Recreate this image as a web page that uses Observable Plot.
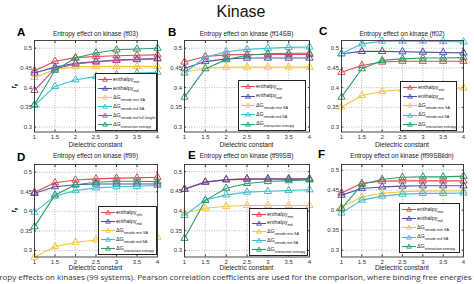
<!DOCTYPE html>
<html>
<head>
<meta charset="utf-8">
<script src="https://cdn.jsdelivr.net/npm/d3@7"></script>
<script src="https://cdn.jsdelivr.net/npm/@observablehq/plot@0.6"></script>
<style>
  body { margin: 0; background: #fff; }
  #fig { position: relative; width: 474px; height: 284px; overflow: hidden; background: #fff;
         font-family: "Liberation Sans", Arial, sans-serif; color: #222; }
  .abs { position: absolute; white-space: nowrap; line-height: 1; }
  .c { transform: translate(-50%, -50%); }
  .legend { position: absolute; background: #fff; border: 1px solid #222; box-sizing: border-box;
            display: flex; flex-direction: column; justify-content: space-evenly; overflow: hidden; }
  .legend .row { display: flex; align-items: center; font-size: 5.4px; line-height: 1; color: #222;
                 white-space: nowrap; height: 7px; }
  .legend svg { flex: none; margin: 0 1px 0 2px; }
  sub { font-size: 3.7px; vertical-align: -1.5px; line-height: 0; }
</style>
</head>
<body>
<div id="fig"></div>
<script>
// Dielectric constants on the x axis
const dielectric = [1, 1.5, 2, 2.5, 3, 3.5, 4];
const yTicks = [0.3, 0.35, 0.4, 0.45, 0.5];

// Series keys, legend names (base + subscript) and colours
const seriesKeys = ["enthalpyMin", "enthalpyMd", "minSA", "mdSA", "fullLength", "interaction"];
const seriesBase = ["enthalpy", "enthalpy", "ΔG", "ΔG", "ΔG", "ΔG"];
const seriesSub = ["min", "md", "nmode min SA", "nmode md SA", "nmode md full-length", "interaction entropy"];
const seriesColors = ["#e4474e", "#4e50a8", "#f6c640", "#3dbfcf", "#b04f98", "#2d9c6c"];

// Pearson r_p per force field
const ff03_enthalpyMin = [0.443, 0.467, 0.476, 0.479, 0.481, 0.482, 0.483];
const ff03_enthalpyMd  = [0.437, 0.452, 0.462, 0.466, 0.470, 0.472, 0.474];
const ff03_minSA       = [0.426, 0.446, 0.453, 0.454, 0.454, 0.454, 0.454];
const ff03_mdSA        = [0.355, 0.403, 0.420, 0.428, 0.433, 0.437, 0.439];
const ff03_fullLength  = [0.393, 0.448, 0.460, 0.465, 0.469, 0.471, 0.473];
const ff03_interaction = [0.357, 0.444, 0.475, 0.488, 0.496, 0.498, 0.500];

const ff14SB_enthalpyMin = [0.465, 0.479, 0.483, 0.484, 0.484, 0.484, 0.484];
const ff14SB_enthalpyMd  = [0.449, 0.466, 0.473, 0.475, 0.475, 0.475, 0.475];
const ff14SB_minSA       = [0.439, 0.449, 0.452, 0.452, 0.452, 0.452, 0.452];
const ff14SB_mdSA        = [0.437, 0.477, 0.491, 0.497, 0.500, 0.502, 0.503];
const ff14SB_interaction = [0.376, 0.448, 0.471, 0.482, 0.486, 0.487, 0.487];

const ff02_enthalpyMin = [0.439, 0.456, 0.465, 0.467, 0.467, 0.467, 0.467];
const ff02_enthalpyMd  = [0.486, 0.492, 0.492, 0.491, 0.490, 0.489, 0.488];
const ff02_minSA       = [0.351, 0.380, 0.390, 0.395, 0.396, 0.397, 0.399];
const ff02_mdSA        = [0.486, 0.511, 0.518, 0.518, 0.518, 0.517, 0.516];
const ff02_interaction = [0.376, 0.448, 0.469, 0.473, 0.475, 0.475, 0.476];

const ff99_enthalpyMin = [0.449, 0.473, 0.480, 0.483, 0.485, 0.4855, 0.487];
const ff99_enthalpyMd  = [0.446, 0.463, 0.468, 0.470, 0.470, 0.470, 0.470];
const ff99_minSA       = [0.283, 0.310, 0.321, 0.327, 0.330, 0.332, 0.334];
const ff99_mdSA        = [0.398, 0.439, 0.453, 0.460, 0.463, 0.464, 0.466];
const ff99_interaction = [0.361, 0.442, 0.468, 0.4745, 0.477, 0.477, 0.476];

const ff99SB_enthalpyMin = [0.456, 0.474, 0.480, 0.482, 0.482, 0.482, 0.482];
const ff99SB_enthalpyMd  = [0.455, 0.473, 0.479, 0.481, 0.481, 0.481, 0.481];
const ff99SB_minSA       = [0.395, 0.407, 0.412, 0.414, 0.414, 0.414, 0.414];
const ff99SB_mdSA        = [0.389, 0.428, 0.441, 0.448, 0.450, 0.452, 0.454];
const ff99SB_interaction = [0.331, 0.427, 0.458, 0.470, 0.475, 0.477, 0.479];

const ff99SBildn_enthalpyMin = [0.443, 0.467, 0.4725, 0.473, 0.473, 0.473, 0.473];
const ff99SBildn_enthalpyMd  = [0.4375, 0.454, 0.458, 0.460, 0.461, 0.461, 0.461];
const ff99SBildn_minSA       = [0.408, 0.433, 0.442, 0.446, 0.4475, 0.448, 0.448];
const ff99SBildn_mdSA        = [0.393, 0.425, 0.435, 0.440, 0.442, 0.442, 0.443];
const ff99SBildn_interaction = [0.404, 0.464, 0.477, 0.482, 0.483, 0.483, 0.485];

const panels = [
  { letter: "A", ff: "ff03", yDomain: [0.2875, 0.5195],
    series: { enthalpyMin: ff03_enthalpyMin, enthalpyMd: ff03_enthalpyMd, minSA: ff03_minSA,
              mdSA: ff03_mdSA, fullLength: ff03_fullLength, interaction: ff03_interaction } },
  { letter: "B", ff: "ff14SB", yDomain: [0.2875, 0.5195],
    series: { enthalpyMin: ff14SB_enthalpyMin, enthalpyMd: ff14SB_enthalpyMd, minSA: ff14SB_minSA,
              mdSA: ff14SB_mdSA, interaction: ff14SB_interaction } },
  { letter: "C", ff: "ff02", yDomain: [0.2875, 0.5195],
    series: { enthalpyMin: ff02_enthalpyMin, enthalpyMd: ff02_enthalpyMd, minSA: ff02_minSA,
              mdSA: ff02_mdSA, interaction: ff02_interaction } },
  { letter: "D", ff: "ff99", yDomain: [0.2834, 0.5197],
    series: { enthalpyMin: ff99_enthalpyMin, enthalpyMd: ff99_enthalpyMd, minSA: ff99_minSA,
              mdSA: ff99_mdSA, interaction: ff99_interaction } },
  { letter: "E", ff: "ff99SB", yDomain: [0.2835, 0.5180],
    series: { enthalpyMin: ff99SB_enthalpyMin, enthalpyMd: ff99SB_enthalpyMd, minSA: ff99SB_minSA,
              mdSA: ff99SB_mdSA, interaction: ff99SB_interaction } },
  { letter: "F", ff: "ff99SBildn", yDomain: [0.2830, 0.5140],
    series: { enthalpyMin: ff99SBildn_enthalpyMin, enthalpyMd: ff99SBildn_enthalpyMd, minSA: ff99SBildn_minSA,
              mdSA: ff99SBildn_mdSA, interaction: ff99SBildn_interaction } }
];

// Layout of the 2 x 3 grid (plot boxes in page pixels)
const colBox = [[34, 157], [184, 309], [341, 463]];
const rowBox = [[40, 131.5], [164, 256.5]];
const letterPos = [[17, 27], [168, 27], [319, 26], [17, 152], [188, 150], [318, 149]];
const legendPos = [[95, 73, 157, 131], [238, 80, 306, 131], [400, 81, 457, 131],
                   [98, 206, 157, 255], [249, 208, 308, 256], [399, 203, 460, 253]];
const titleY = [33.5, 156];
const xLabelY = [144.5, 268.3];

const fig = document.getElementById("fig");

function addText(html, x, y, style) {
  const d = document.createElement("div");
  d.className = "abs c";
  d.innerHTML = html;
  d.style.left = x + "px";
  d.style.top = y + "px";
  Object.assign(d.style, style || {});
  fig.appendChild(d);
  return d;
}

addText("Kinase", 241, 12, { fontSize: "16px", color: "#111" });

panels.forEach((p, i) => {
  const r = Math.floor(i / 3), c = i % 3;
  const [x0, x1] = colBox[c], [y0, y1] = rowBox[r];
  const mL = 26, mR = 8, mT = 6, mB = 14;
  const marks = [
    Plot.gridX(dielectric, { stroke: "#9a9a9a", strokeOpacity: 0.7, strokeDasharray: "1,1.5" }),
    Plot.gridY(yTicks, { stroke: "#9a9a9a", strokeOpacity: 0.7, strokeDasharray: "1,1.5" }),
    Plot.axisX(dielectric, { tickSize: 0, tickPadding: 3, tickFormat: d => String(d), label: null, color: "#333" }),
    Plot.axisY(yTicks, { tickSize: 0, tickPadding: 2.5, tickFormat: d => String(d), label: null, color: "#333" }),
    Plot.axisX(dielectric, { tickSize: 2, dy: -2, tickFormat: () => "", label: null, stroke: "#333" }),
    Plot.axisY(yTicks, { tickSize: 2, dx: 2, tickFormat: () => "", label: null, stroke: "#333" }),
    Plot.axisX(dielectric, { anchor: "top", tickSize: 2, dy: 2, tickFormat: () => "", label: null, stroke: "#333" }),
    Plot.axisY(yTicks, { anchor: "right", tickSize: 2, dx: -2, tickFormat: () => "", label: null, stroke: "#333" })
  ];
  seriesKeys.forEach((k, si) => {
    const vals = p.series[k];
    if (!vals) return;
    const data = dielectric.map((x, j) => ({ x, y: vals[j] }));
    marks.push(Plot.line(data, { x: "x", y: "y", stroke: seriesColors[si], strokeWidth: 1.1 }));
    marks.push(Plot.dot(data, { x: "x", y: "y", stroke: seriesColors[si], symbol: "triangle", r: 2.7, strokeWidth: 1, fill: "none" }));
  });
  marks.push(Plot.frame({ stroke: "#333", strokeWidth: 0.9 }));

  const svg = Plot.plot({
    width: (x1 - x0) + mL + mR,
    height: (y1 - y0) + mT + mB,
    marginLeft: mL, marginRight: mR, marginTop: mT, marginBottom: mB,
    style: { fontFamily: "'Liberation Sans', Arial, sans-serif", fontSize: "6px", color: "#333", background: "transparent", overflow: "visible" },
    x: { domain: [1, 4] },
    y: { domain: p.yDomain },
    marks
  });
  svg.style.position = "absolute";
  svg.style.left = (x0 - mL) + "px";
  svg.style.top = (y0 - mT) + "px";
  fig.appendChild(svg);

  const cx = (x0 + x1) / 2, cy = (y0 + y1) / 2;
  addText(`Entropy effect on kinase (${p.ff})`, cx, titleY[r], { fontSize: "6.4px" });
  addText("Dielectric constant", cx, xLabelY[r], { fontSize: "6.6px" });
  addText("r<sub>p</sub>", 14, cy, { fontSize: "6.5px", transform: "translate(-50%,-50%) rotate(-90deg)" });
  const lp = letterPos[i];
  addText(p.letter, lp[0], lp[1], { fontSize: "11.5px", fontWeight: "bold", color: "#000", transform: "none" });

  // legend
  const lg = legendPos[i];
  const box = document.createElement("div");
  box.className = "legend";
  Object.assign(box.style, { left: lg[0] + "px", top: lg[1] + "px", width: (lg[2] - lg[0]) + "px", height: (lg[3] - lg[1]) + "px" });
  seriesKeys.forEach((k, si) => {
    if (!p.series[k]) return;
    const row = document.createElement("div");
    row.className = "row";
    const col = seriesColors[si];
    row.innerHTML = `<svg width="14" height="7" viewBox="0 0 14 7"><line x1="0" x2="14" y1="3.5" y2="3.5" stroke="${col}" stroke-width="1.1"/>` +
      `<path d="M7,1 L9.3,5.2 L4.7,5.2 Z" fill="none" stroke="${col}" stroke-width="0.9"/></svg>` +
      `<span>${seriesBase[si]}<sub>${seriesSub[si]}</sub></span>`;
    box.appendChild(row);
  });
  fig.appendChild(box);
});

const cap = document.createElement("div");
cap.className = "abs";
cap.textContent = "entropy effects on kinases (99 systems). Pearson correlation coefficients are used for the comparison, where binding free energies for";
Object.assign(cap.style, { left: "-13px", top: "273px", fontSize: "8px", fontFamily: "'Open Sans', sans-serif", color: "#333" });
fig.appendChild(cap);
</script>
</body>
</html>
